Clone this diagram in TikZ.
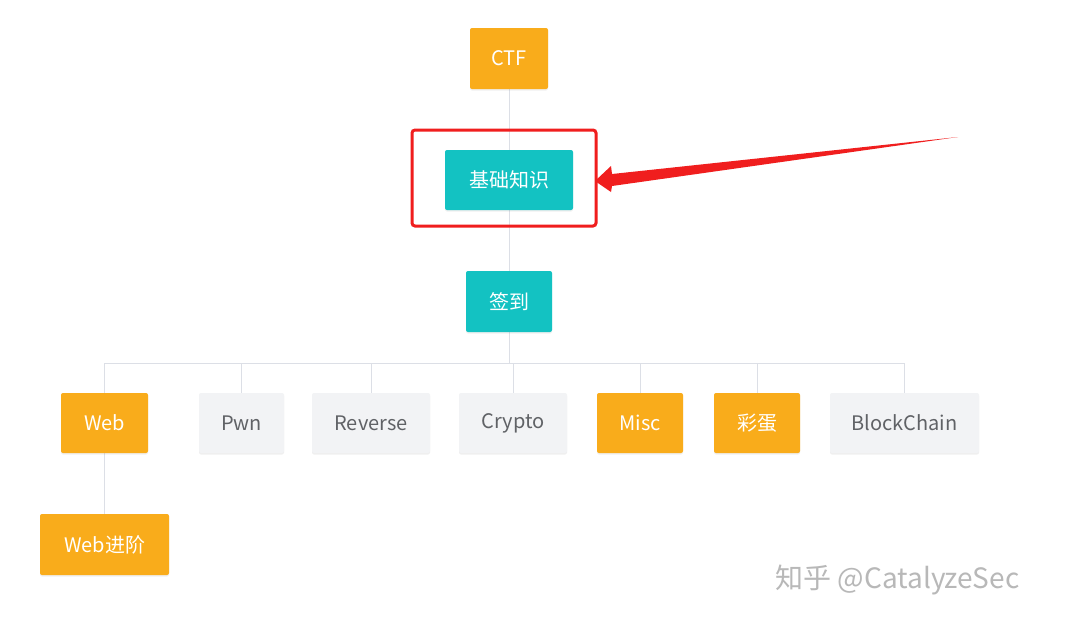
\documentclass[tikz,border=0pt]{standalone}
\usepackage{fontspec}
\setmainfont{Noto Sans CJK SC}
\usetikzlibrary{shadows}
\definecolor{org}{HTML}{F9AC1B}
\definecolor{teal}{HTML}{13C2C2}
\definecolor{gbox}{HTML}{F2F3F5}
\definecolor{gtxt}{HTML}{606266}
\definecolor{lin}{HTML}{DCDFE6}
\definecolor{wm}{HTML}{B8B8B8}
\definecolor{hred}{HTML}{F01E1E}
\begin{document}
\begin{tikzpicture}[x=1pt,y=-1pt,
  bx/.style={rounded corners=2pt,minimum height=60pt,font=\fontsize{20}{20}\selectfont,inner sep=0pt,
    drop shadow={shadow xshift=0pt,shadow yshift=-1.5pt,opacity=0.12}},
  ob/.style={bx,fill=org,text=white},
  tb/.style={bx,fill=teal,text=white},
  gb/.style={bx,fill=gbox,text=gtxt},
  ln/.style={draw=lin,line width=0.8pt}]
\useasboundingbox (0,0) rectangle (1083,630);
\fill[white] (0,0) rectangle (1083,630);
\coordinate (bl) at (105,363); \coordinate (br) at (905,363); \coordinate (bm) at (509,363);
\draw[ln] (509,89) -- (509,150);
\draw[ln] (509,210) -- (509,271);
\draw[ln] (509,332) -- (bm);
\draw[ln] (bl) -- (br);
\draw[ln] (104.5,453) -- (104.5,514);
\node[ob,minimum width=78pt,minimum height=61pt] (ctf) at (509,58.5) {CTF};
\node[tb,minimum width=128pt] (jc) at (509,180) {基础知识};
\node[tb,minimum width=86pt,minimum height=61pt] (qd) at (509,301.5) {签到};
\node[ob,minimum width=87pt] (web) at (104.5,423) {Web};
\node[gb,minimum width=85pt] (pwn) at (241.5,423) {Pwn};
\node[gb,minimum width=118pt] (rev) at (371,423) {Reverse};
\node[gb,minimum width=108pt] (cry) at (513,423) {Crypto};
\node[ob,minimum width=86pt] (misc) at (640,423) {Misc};
\node[ob,minimum width=86pt] (cd) at (757,423) {彩蛋};
\node[gb,minimum width=149pt] (bc) at (904.5,423) {BlockChain};
\node[ob,minimum width=129pt,minimum height=61pt] (wj) at (104.5,544.5) {Web进阶};
\foreach \n in {web,pwn,rev,cry,misc,cd,bc} \draw[ln] (\n.north|-bl) -- (\n.north);
\node[draw=hred,line width=3pt,rounded corners=3pt,minimum width=184pt,minimum height=96pt,inner sep=0pt] (hl) at (504,178) {};
\fill[hred] (958,137) -- (612,174) -- (611,166) -- (595,181) -- (611,192) -- (612,186) -- cycle;
\node[text=wm,font=\fontsize{28}{28}\selectfont,anchor=west] (w) at (772,580) {知乎 @CatalyzeSec};
\end{tikzpicture}
\end{document}
